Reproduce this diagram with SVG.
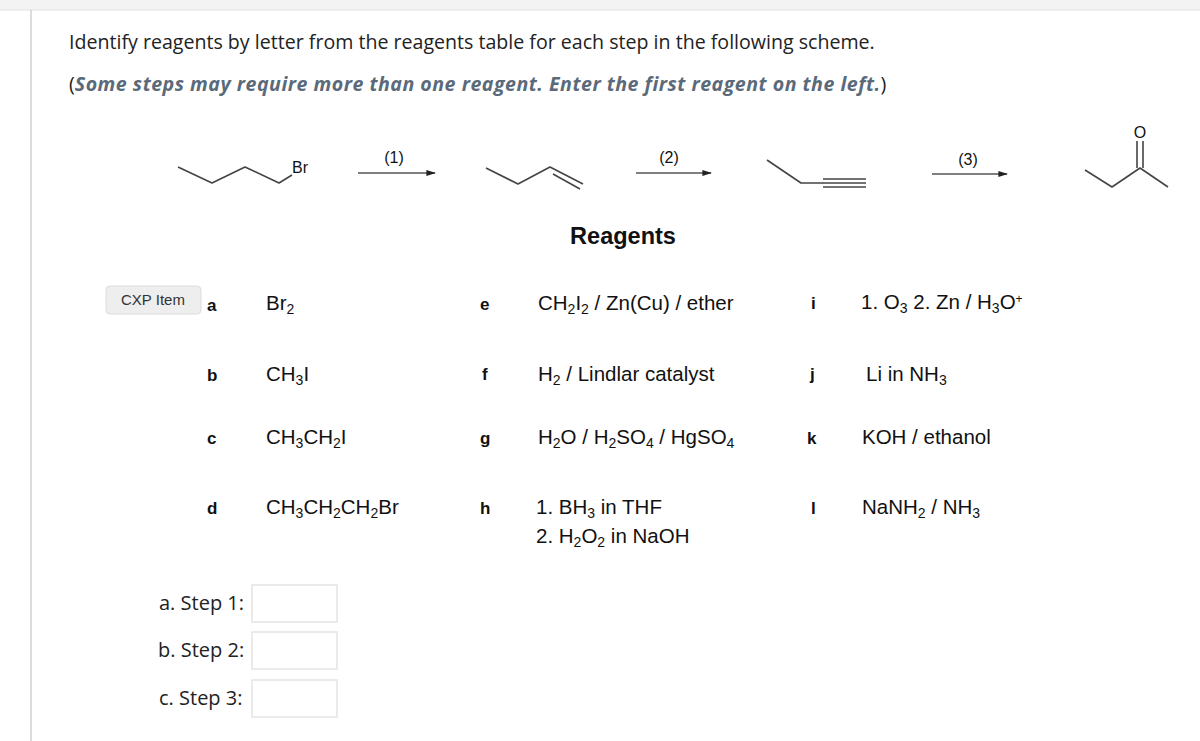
<svg xmlns="http://www.w3.org/2000/svg" width="1200" height="741" viewBox="0 0 1200 741">
<defs>
<style>
.o{font-family:"Open Sans",sans-serif;font-size:19.6px;fill:#222}
.st{font-family:"Open Sans",sans-serif;font-size:20px;fill:#222}
.r{font-family:"Liberation Sans",Arial,sans-serif;font-size:20.5px;fill:#111}
.s{font-family:"Liberation Sans",Arial,sans-serif;font-size:16px;fill:#111}
.l{font-family:"Liberation Sans",Arial,sans-serif;font-size:17px;font-weight:bold;fill:#111}
.b{stroke:#444;stroke-width:1.6;fill:none;stroke-linejoin:round}
.a{stroke:#555;stroke-width:1.6;marker-end:url(#ah)}
.box{fill:#fff;stroke:#e4e4e4;stroke-width:1.5}
</style>
<marker id="ah" viewBox="0 0 10 10" refX="9" refY="5" markerWidth="6" markerHeight="6" orient="auto"><path d="M0,2 L10,5 L0,8 z" fill="#222"/></marker>
</defs>
<rect width="1200" height="741" fill="#fff"/>
<rect width="1200" height="10" fill="#f3f3f3"/>
<line x1="0" y1="10" x2="1200" y2="10" stroke="#e0e0e0"/>
<line x1="31" y1="10" x2="31" y2="741" stroke="#d0d0d0" stroke-width="1.5"/>
<text class="o" x="69" y="49">Identify reagents by letter from the reagents table for each step in the following scheme.</text>
<text class="o" x="69" y="91">(<tspan font-weight="bold" font-style="italic" fill="#5a6a7a" letter-spacing="0.5">Some steps may require more than one reagent. Enter the first reagent on the left.</tspan>)</text>
<g id="scheme">
<polyline class="b" points="178,167 212,183 245,167 279,183 292,175"/>
<text class="s" x="292" y="173">Br</text>
<polyline class="b" points="486,168 518,184 550,167 583,184"/>
<line class="b" x1="553" y1="174" x2="580" y2="189"/>
<polyline class="b" points="767,160 801,183 866,183"/>
<line class="b" x1="823" y1="179" x2="866" y2="179"/>
<line class="b" x1="823" y1="187" x2="866" y2="187"/>
<polyline class="b" points="1085,170 1112,187 1140,168 1168,187"/>
<line class="b" x1="1137" y1="168" x2="1137" y2="141"/>
<line class="b" x1="1143" y1="168" x2="1143" y2="141"/>
<text class="s" x="1140" y="138" text-anchor="middle">O</text>
</g>
<g id="connectors">
<line class="a" x1="358" y1="173" x2="435" y2="173"/>
<line class="a" x1="636" y1="173" x2="711" y2="173"/>
<line class="a" x1="932" y1="174" x2="1007" y2="174"/>
<text class="s" x="394" y="163" text-anchor="middle">(1)</text>
<text class="s" x="669" y="163" text-anchor="middle">(2)</text>
<text class="s" x="968" y="165" text-anchor="middle">(3)</text>
</g>
<text x="623" y="244" text-anchor="middle" style="font-family:'Liberation Sans',Arial,sans-serif;font-size:23.5px;font-weight:bold;fill:#111">Reagents</text>
<g id="cxp">
<rect x="106" y="286" width="95" height="28" rx="4" fill="#eeeeee" stroke="#dcdcdc"/>
<text x="153" y="305" text-anchor="middle" style="font-family:'Liberation Sans',Arial,sans-serif;font-size:15px;fill:#333">CXP Item</text>
</g>
<g id="table">
<text class="l" x="207" y="311">a</text><text class="r" x="266" y="310">Br<tspan font-size="14" dy="4">2</tspan></text>
<text class="l" x="207" y="381">b</text><text class="r" x="266" y="381">CH<tspan font-size="14" dy="4">3</tspan><tspan dy="-4">I</tspan></text>
<text class="l" x="207" y="444">c</text><text class="r" x="266" y="444">CH<tspan font-size="14" dy="4">3</tspan><tspan dy="-4">CH</tspan><tspan font-size="14" dy="4">2</tspan><tspan dy="-4">I</tspan></text>
<text class="l" x="207" y="514">d</text><text class="r" x="266" y="514">CH<tspan font-size="14" dy="4">3</tspan><tspan dy="-4">CH</tspan><tspan font-size="14" dy="4">2</tspan><tspan dy="-4">CH</tspan><tspan font-size="14" dy="4">2</tspan><tspan dy="-4">Br</tspan></text>
<text class="l" x="480" y="310">e</text><text class="r" x="538" y="310">CH<tspan font-size="14" dy="4">2</tspan><tspan dy="-4">I</tspan><tspan font-size="14" dy="4">2</tspan><tspan dy="-4"> / Zn(Cu) / ether</tspan></text>
<text class="l" x="482" y="380">f</text><text class="r" x="538" y="381">H<tspan font-size="14" dy="4">2</tspan><tspan dy="-4"> / Lindlar catalyst</tspan></text>
<text class="l" x="480" y="444">g</text><text class="r" x="538" y="444">H<tspan font-size="14" dy="4">2</tspan><tspan dy="-4">O / H</tspan><tspan font-size="14" dy="4">2</tspan><tspan dy="-4">SO</tspan><tspan font-size="14" dy="4">4</tspan><tspan dy="-4"> / HgSO</tspan><tspan font-size="14" dy="4">4</tspan></text>
<text class="l" x="480" y="514">h</text><text class="r" x="536" y="514">1. BH<tspan font-size="14" dy="4">3</tspan><tspan dy="-4"> in THF</tspan></text>
<text class="r" x="536" y="543">2. H<tspan font-size="14" dy="4">2</tspan><tspan dy="-4">O</tspan><tspan font-size="14" dy="4">2</tspan><tspan dy="-4"> in NaOH</tspan></text>
<text class="l" x="811" y="309">i</text><text class="r" x="861" y="309">1. O<tspan font-size="14" dy="4">3</tspan><tspan dy="-4">  2. Zn / H</tspan><tspan font-size="14" dy="4">3</tspan><tspan dy="-4">O</tspan><tspan font-size="12" dy="-6">+</tspan></text>
<text class="l" x="810" y="380">j</text><text class="r" x="866" y="381">Li in NH<tspan font-size="14" dy="4">3</tspan></text>
<text class="l" x="807" y="444">k</text><text class="r" x="862" y="444">KOH / ethanol</text>
<text class="l" x="811" y="514">l</text><text class="r" x="862" y="514">NaNH<tspan font-size="14" dy="4">2</tspan><tspan dy="-4"> / NH</tspan><tspan font-size="14" dy="4">3</tspan></text>
</g>
<g id="answers">
<text class="st" x="159" y="610">a.  Step 1:</text>
<text class="st" x="158" y="657">b.  Step 2:</text>
<text class="st" x="159" y="705">c.  Step 3:</text>
<rect class="box" x="252" y="585" width="85" height="37"/>
<rect class="box" x="252" y="632" width="85" height="37"/>
<rect class="box" x="252" y="680" width="85" height="37"/>
</g>
</svg>
